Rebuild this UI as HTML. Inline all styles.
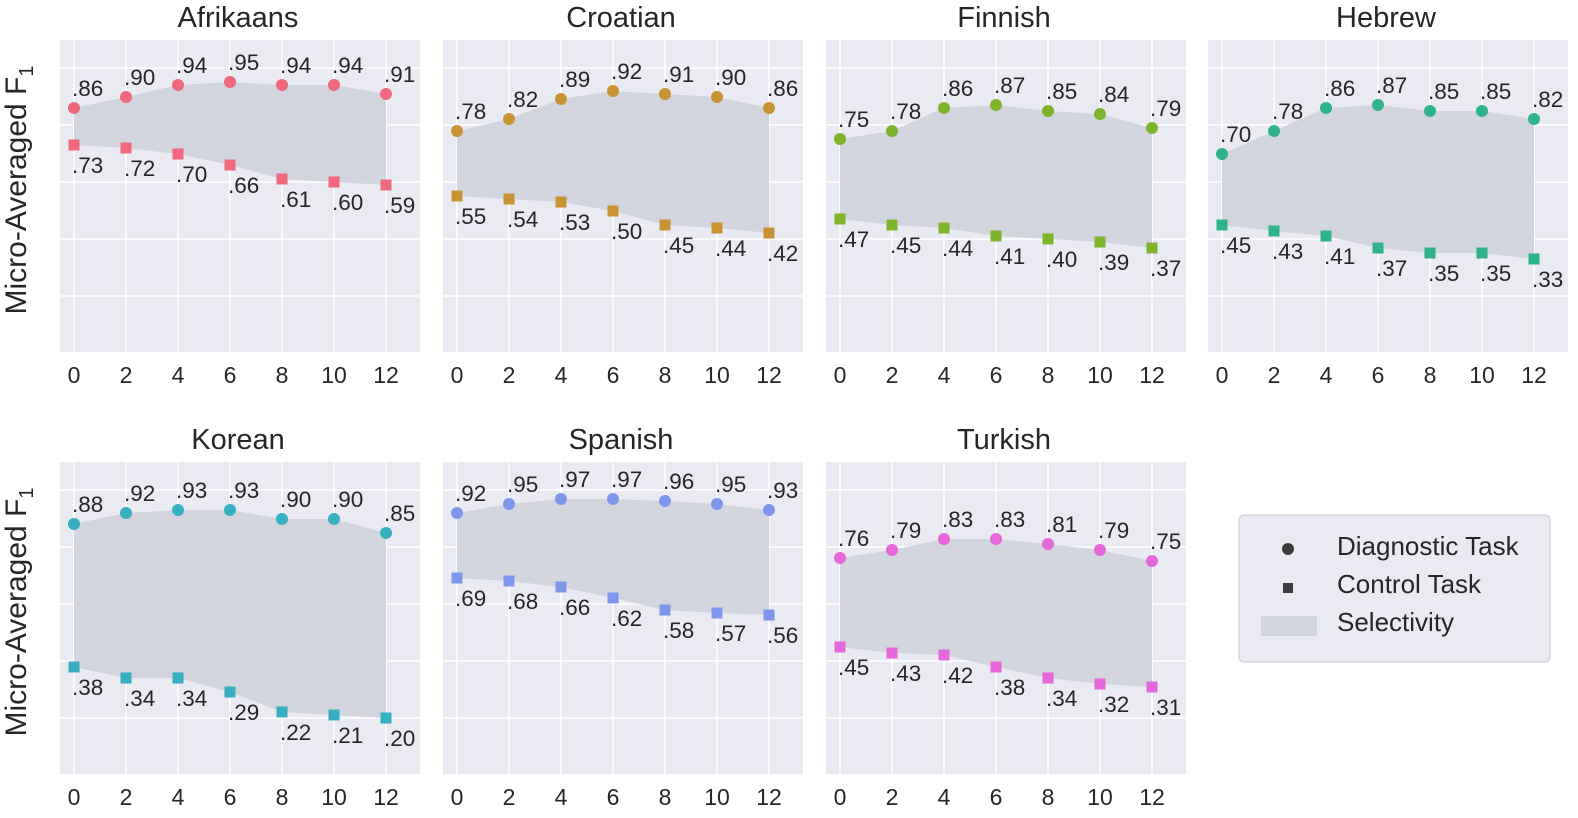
<!DOCTYPE html>
<html><head><meta charset="utf-8"><style>
body{margin:0;background:#fff}
svg{display:block;font-family:"Liberation Sans",sans-serif}
.t{font-size:29px;fill:#262626;text-anchor:middle}
.k{font-size:23px;fill:#262626;text-anchor:middle}
.v{font-size:22.5px;fill:#262626}
.y{font-size:30px;fill:#262626;text-anchor:middle}
</style></head><body>
<svg width="1578" height="818" viewBox="0 0 1578 818">
<defs>
<g id="ax">
<rect x="60" y="40" width="360" height="312" fill="#eaeaf2"/>
<g stroke="#fff" stroke-width="1.5">
<line x1="60" x2="420" y1="68" y2="68"/><line x1="60" x2="420" y1="125" y2="125"/><line x1="60" x2="420" y1="182" y2="182"/><line x1="60" x2="420" y1="239" y2="239"/><line x1="60" x2="420" y1="296" y2="296"/>
<line y1="40" y2="352" x1="74" x2="74"/><line y1="40" y2="352" x1="126" x2="126"/><line y1="40" y2="352" x1="178" x2="178"/><line y1="40" y2="352" x1="230" x2="230"/><line y1="40" y2="352" x1="282" x2="282"/><line y1="40" y2="352" x1="334" x2="334"/><line y1="40" y2="352" x1="386" x2="386"/>
</g>
<g class="k"><text x="74" y="383">0</text><text x="126" y="383">2</text><text x="178" y="383">4</text><text x="230" y="383">6</text><text x="282" y="383">8</text><text x="334" y="383">10</text><text x="386" y="383">12</text></g>
</g>
</defs>

<text class="y" transform="translate(26,190) rotate(-90)">Micro-Averaged F<tspan font-size="20" dy="7">1</tspan></text>
<text class="y" transform="translate(26,612) rotate(-90)">Micro-Averaged F<tspan font-size="20" dy="7">1</tspan></text>

<!-- Afrikaans -->
<g transform="translate(0,0)">
<use href="#ax"/><text class="t" x="238" y="27">Afrikaans</text>
<polygon fill="#d2d4de" points="74,108 126,97 178,85 230,82 282,85 334,85 386,94 386,185 334,182 282,179 230,165 178,154 126,148 74,145"/>
<g fill="#f0687e"><circle cx="74" cy="108" r="6"/><circle cx="126" cy="97" r="6"/><circle cx="178" cy="85" r="6"/><circle cx="230" cy="82" r="6"/><circle cx="282" cy="85" r="6"/><circle cx="334" cy="85" r="6"/><circle cx="386" cy="94" r="6"/>
<rect x="68.5" y="139.5" width="11" height="11"/><rect x="120.5" y="142.5" width="11" height="11"/><rect x="172.5" y="148.5" width="11" height="11"/><rect x="224.5" y="159.5" width="11" height="11"/><rect x="276.5" y="173.5" width="11" height="11"/><rect x="328.5" y="176.5" width="11" height="11"/><rect x="380.5" y="179.5" width="11" height="11"/></g>
<g class="v"><text x="72" y="96">.86</text><text x="124" y="85">.90</text><text x="176" y="73">.94</text><text x="228" y="70">.95</text><text x="280" y="73">.94</text><text x="332" y="73">.94</text><text x="384" y="82">.91</text>
<text x="72" y="173">.73</text><text x="124" y="176">.72</text><text x="176" y="182">.70</text><text x="228" y="193">.66</text><text x="280" y="207">.61</text><text x="332" y="210">.60</text><text x="384" y="213">.59</text></g>
</g>

<!-- Croatian -->
<g transform="translate(383,0)">
<use href="#ax"/><text class="t" x="238" y="27">Croatian</text>
<polygon fill="#d2d4de" points="74,131 126,119 178,99 230,91 282,94 334,97 386,108 386,233 334,228 282,225 230,211 178,202 126,199 74,196"/>
<g fill="#c99232"><circle cx="74" cy="131" r="6"/><circle cx="126" cy="119" r="6"/><circle cx="178" cy="99" r="6"/><circle cx="230" cy="91" r="6"/><circle cx="282" cy="94" r="6"/><circle cx="334" cy="97" r="6"/><circle cx="386" cy="108" r="6"/>
<rect x="68.5" y="190.5" width="11" height="11"/><rect x="120.5" y="193.5" width="11" height="11"/><rect x="172.5" y="196.5" width="11" height="11"/><rect x="224.5" y="205.5" width="11" height="11"/><rect x="276.5" y="219.5" width="11" height="11"/><rect x="328.5" y="222.5" width="11" height="11"/><rect x="380.5" y="227.5" width="11" height="11"/></g>
<g class="v"><text x="72" y="119">.78</text><text x="124" y="107">.82</text><text x="176" y="87">.89</text><text x="228" y="79">.92</text><text x="280" y="82">.91</text><text x="332" y="85">.90</text><text x="384" y="96">.86</text>
<text x="72" y="224">.55</text><text x="124" y="227">.54</text><text x="176" y="230">.53</text><text x="228" y="239">.50</text><text x="280" y="253">.45</text><text x="332" y="256">.44</text><text x="384" y="261">.42</text></g>
</g>

<!-- Finnish -->
<g transform="translate(766,0)">
<use href="#ax"/><text class="t" x="238" y="27">Finnish</text>
<polygon fill="#d2d4de" points="74,139 126,131 178,108 230,105 282,111 334,114 386,128 386,248 334,242 282,239 230,236 178,228 126,225 74,219"/>
<g fill="#7db42c"><circle cx="74" cy="139" r="6"/><circle cx="126" cy="131" r="6"/><circle cx="178" cy="108" r="6"/><circle cx="230" cy="105" r="6"/><circle cx="282" cy="111" r="6"/><circle cx="334" cy="114" r="6"/><circle cx="386" cy="128" r="6"/>
<rect x="68.5" y="213.5" width="11" height="11"/><rect x="120.5" y="219.5" width="11" height="11"/><rect x="172.5" y="222.5" width="11" height="11"/><rect x="224.5" y="230.5" width="11" height="11"/><rect x="276.5" y="233.5" width="11" height="11"/><rect x="328.5" y="236.5" width="11" height="11"/><rect x="380.5" y="242.5" width="11" height="11"/></g>
<g class="v"><text x="72" y="127">.75</text><text x="124" y="119">.78</text><text x="176" y="96">.86</text><text x="228" y="93">.87</text><text x="280" y="99">.85</text><text x="332" y="102">.84</text><text x="384" y="116">.79</text>
<text x="72" y="247">.47</text><text x="124" y="253">.45</text><text x="176" y="256">.44</text><text x="228" y="264">.41</text><text x="280" y="267">.40</text><text x="332" y="270">.39</text><text x="384" y="276">.37</text></g>
</g>

<!-- Hebrew -->
<g transform="translate(1148,0)">
<use href="#ax"/><text class="t" x="238" y="27">Hebrew</text>
<polygon fill="#d2d4de" points="74,154 126,131 178,108 230,105 282,111 334,111 386,119 386,259 334,253 282,253 230,248 178,236 126,231 74,225"/>
<g fill="#2fb38b"><circle cx="74" cy="154" r="6"/><circle cx="126" cy="131" r="6"/><circle cx="178" cy="108" r="6"/><circle cx="230" cy="105" r="6"/><circle cx="282" cy="111" r="6"/><circle cx="334" cy="111" r="6"/><circle cx="386" cy="119" r="6"/>
<rect x="68.5" y="219.5" width="11" height="11"/><rect x="120.5" y="225.5" width="11" height="11"/><rect x="172.5" y="230.5" width="11" height="11"/><rect x="224.5" y="242.5" width="11" height="11"/><rect x="276.5" y="247.5" width="11" height="11"/><rect x="328.5" y="247.5" width="11" height="11"/><rect x="380.5" y="253.5" width="11" height="11"/></g>
<g class="v"><text x="72" y="142">.70</text><text x="124" y="119">.78</text><text x="176" y="96">.86</text><text x="228" y="93">.87</text><text x="280" y="99">.85</text><text x="332" y="99">.85</text><text x="384" y="107">.82</text>
<text x="72" y="253">.45</text><text x="124" y="259">.43</text><text x="176" y="264">.41</text><text x="228" y="276">.37</text><text x="280" y="281">.35</text><text x="332" y="281">.35</text><text x="384" y="287">.33</text></g>
</g>

<!-- Korean -->
<g transform="translate(0,422)">
<use href="#ax"/><text class="t" x="238" y="27">Korean</text>
<polygon fill="#d2d4de" points="74,102 126,91 178,88 230,88 282,97 334,97 386,111 386,296 334,293 282,290 230,270 178,256 126,256 74,245"/>
<g fill="#36afc3"><circle cx="74" cy="102" r="6"/><circle cx="126" cy="91" r="6"/><circle cx="178" cy="88" r="6"/><circle cx="230" cy="88" r="6"/><circle cx="282" cy="97" r="6"/><circle cx="334" cy="97" r="6"/><circle cx="386" cy="111" r="6"/>
<rect x="68.5" y="239.5" width="11" height="11"/><rect x="120.5" y="250.5" width="11" height="11"/><rect x="172.5" y="250.5" width="11" height="11"/><rect x="224.5" y="264.5" width="11" height="11"/><rect x="276.5" y="284.5" width="11" height="11"/><rect x="328.5" y="287.5" width="11" height="11"/><rect x="380.5" y="290.5" width="11" height="11"/></g>
<g class="v"><text x="72" y="90">.88</text><text x="124" y="79">.92</text><text x="176" y="76">.93</text><text x="228" y="76">.93</text><text x="280" y="85">.90</text><text x="332" y="85">.90</text><text x="384" y="99">.85</text>
<text x="72" y="273">.38</text><text x="124" y="284">.34</text><text x="176" y="284">.34</text><text x="228" y="298">.29</text><text x="280" y="318">.22</text><text x="332" y="321">.21</text><text x="384" y="324">.20</text></g>
</g>

<!-- Spanish -->
<g transform="translate(383,422)">
<use href="#ax"/><text class="t" x="238" y="27">Spanish</text>
<polygon fill="#d2d4de" points="74,91 126,82 178,77 230,77 282,79 334,82 386,88 386,193 334,191 282,188 230,176 178,165 126,159 74,156"/>
<g fill="#7f96ef"><circle cx="74" cy="91" r="6"/><circle cx="126" cy="82" r="6"/><circle cx="178" cy="77" r="6"/><circle cx="230" cy="77" r="6"/><circle cx="282" cy="79" r="6"/><circle cx="334" cy="82" r="6"/><circle cx="386" cy="88" r="6"/>
<rect x="68.5" y="150.5" width="11" height="11"/><rect x="120.5" y="153.5" width="11" height="11"/><rect x="172.5" y="159.5" width="11" height="11"/><rect x="224.5" y="170.5" width="11" height="11"/><rect x="276.5" y="182.5" width="11" height="11"/><rect x="328.5" y="185.5" width="11" height="11"/><rect x="380.5" y="187.5" width="11" height="11"/></g>
<g class="v"><text x="72" y="79">.92</text><text x="124" y="70">.95</text><text x="176" y="65">.97</text><text x="228" y="65">.97</text><text x="280" y="67">.96</text><text x="332" y="70">.95</text><text x="384" y="76">.93</text>
<text x="72" y="184">.69</text><text x="124" y="187">.68</text><text x="176" y="193">.66</text><text x="228" y="204">.62</text><text x="280" y="216">.58</text><text x="332" y="219">.57</text><text x="384" y="221">.56</text></g>
</g>

<!-- Turkish -->
<g transform="translate(766,422)">
<use href="#ax"/><text class="t" x="238" y="27">Turkish</text>
<polygon fill="#d2d4de" points="74,136 126,128 178,117 230,117 282,122 334,128 386,139 386,265 334,262 282,256 230,245 178,233 126,231 74,225"/>
<g fill="#e666dc"><circle cx="74" cy="136" r="6"/><circle cx="126" cy="128" r="6"/><circle cx="178" cy="117" r="6"/><circle cx="230" cy="117" r="6"/><circle cx="282" cy="122" r="6"/><circle cx="334" cy="128" r="6"/><circle cx="386" cy="139" r="6"/>
<rect x="68.5" y="219.5" width="11" height="11"/><rect x="120.5" y="225.5" width="11" height="11"/><rect x="172.5" y="227.5" width="11" height="11"/><rect x="224.5" y="239.5" width="11" height="11"/><rect x="276.5" y="250.5" width="11" height="11"/><rect x="328.5" y="256.5" width="11" height="11"/><rect x="380.5" y="259.5" width="11" height="11"/></g>
<g class="v"><text x="72" y="124">.76</text><text x="124" y="116">.79</text><text x="176" y="105">.83</text><text x="228" y="105">.83</text><text x="280" y="110">.81</text><text x="332" y="116">.79</text><text x="384" y="127">.75</text>
<text x="72" y="253">.45</text><text x="124" y="259">.43</text><text x="176" y="261">.42</text><text x="228" y="273">.38</text><text x="280" y="284">.34</text><text x="332" y="290">.32</text><text x="384" y="293">.31</text></g>
</g>

<!-- Legend -->
<rect x="1239" y="515" width="311" height="147" rx="5" fill="#eaeaf2" stroke="#cfcfd6" stroke-width="1.2"/>
<circle cx="1288" cy="549" r="6" fill="#3b3b3b"/>
<rect x="1283" y="583" width="10" height="10" fill="#3b3b3b"/>
<rect x="1261" y="616" width="56" height="20" fill="#d2d4de"/>
<g font-size="26" fill="#262626"><text x="1337" y="555">Diagnostic Task</text><text x="1337" y="593">Control Task</text><text x="1337" y="631">Selectivity</text></g>
</svg>
</body></html>
